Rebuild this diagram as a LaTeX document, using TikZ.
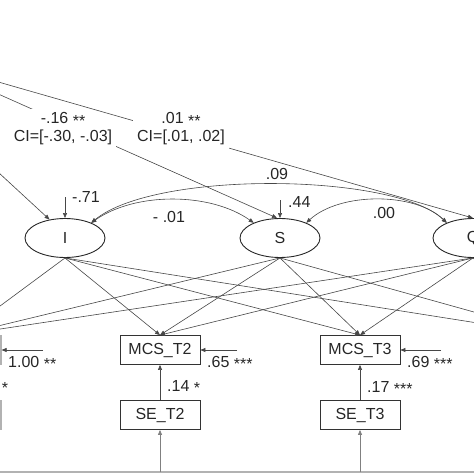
\documentclass[tikz,border=0pt]{standalone}
\usepackage{fontspec}
\setmainfont{Liberation Sans}
\usetikzlibrary{arrows.meta,shapes.geometric}
\newcommand{\stx}[1]{\raisebox{-0.3ex}{#1}}
\begin{document}
\begin{tikzpicture}[x=1pt,y=-1pt,
  lat/.style={ellipse,draw=black!85,line width=0.9pt,minimum width=80pt,minimum height=39pt,inner sep=0pt,font=\fontsize{16}{18}\selectfont,text=black!85},
  obs/.style={rectangle,draw=black!80,line width=0.8pt,minimum width=80pt,minimum height=29pt,inner sep=0pt,font=\fontsize{16}{18}\selectfont,text=black!85},
  edgebox/.style={obs,draw=black!30,line width=1.2pt},
  reg/.style={draw=black!72,line width=0.6pt,-{Triangle[length=5pt,width=4pt]}},
  cov/.style={draw=black!72,line width=0.6pt,{Triangle[length=5pt,width=4pt]}-{Triangle[length=5pt,width=4pt]}},
  lab/.style={font=\fontsize{16}{18}\selectfont,inner sep=0pt,text=black!85},
  cilab/.style={lab,align=center,fill=white,inner sep=4pt},
  base/.style={draw=black!30,line width=1.5pt},
  feed/.style={draw=black!50,line width=0.7pt,-{Triangle[length=5pt,width=4pt]}}
]
\useasboundingbox (0,0) rectangle (474,474);
\clip (0,0) rectangle (474,474);

% latent factors
\node[lat] (I) at (65,238) {I};
\node[lat] (S) at (280,238) {S};
\node[lat] (Q) at (473,238) {Q};

% observed
\node[edgebox] (M1) at (-39,350) {};
\node[obs] (M2) at (160,350) {MCS\_T2};
\node[obs] (M3) at (360,350) {MCS\_T3};
\node[edgebox] (E1) at (-39,415) {};
\node[obs] (E2) at (160,415) {SE\_T2};
\node[obs] (E3) at (360,415) {SE\_T3};
\coordinate (M4) at (560,336);

% off-canvas sources
\coordinate (srcA) at (-40,71);
\coordinate (srcB) at (-40,77);
\coordinate (srcC) at (-40,137);
\coordinate (eI) at (65,197);
\coordinate (eS) at (280,200);

% straight paths from upper left
\draw[reg] (srcB) -- ([xshift=-3pt]S.north);
\node[cilab] (labB) at (63,129) {-.16 \stx{**}\\CI=[-.30, -.03]};
\draw[reg] (srcA) -- (Q.north);
\node[cilab] (labA) at (181,129) {.01 \stx{**}\\CI=[.01, .02]};
\draw[reg] (srcC) -- (I.130);

% residual/variance arrows into factors
\draw[reg] (eI) -- (I.north);
\node[lab,anchor=west] (l71) at (72,197) {-.71};
\draw[reg] (eS) -- (S.north);
\node[lab,anchor=west] (l44) at (288,202) {.44};

% covariances
\draw[cov] (I.30) .. controls (135,192) and (210,192) .. (S.150);
\draw[cov] (I.30) .. controls (155,170) and (395,173) .. (Q.150);
\draw[cov] (S.30) .. controls (340,192) and (415,192) .. (Q.150);
\node[lab] (l01) at (169,217) {- .01};
\node[lab] (l09) at (277,174) {.09};
\node[lab] (l00) at (384,213) {.00};

% loadings
\foreach \f in {I,S,Q}{
  \foreach \m in {M1,M2,M3}{
    \draw[reg] (\f.south) -- (\m.north);
  }
  \draw[reg] (\f.south) -- (M4);
}

% residuals of MCS
\coordinate (r1) at (43,350);
\coordinate (r2) at (237,350);
\coordinate (r3) at (441,350);
\draw[reg] (r1) -- (M1.east);
\draw[reg] (r2) -- (M2.east);
\draw[reg] (r3) -- (M3.east);
\node[lab,anchor=west] (l100) at (8,363) {1.00 \stx{**}};
\node[lab,anchor=west] (l65) at (207,363) {.65 \stx{***}};
\node[lab,anchor=west] (l69) at (407,363) {.69 \stx{***}};

% SE -> MCS
\draw[reg] (E1.north) -- (M1.south);
\draw[reg] (E2.north) -- (M2.south);
\draw[reg] (E3.north) -- (M3.south);
\node[lab] (l13) at (5,388) {\stx{*}};
\node[lab,anchor=west] (l14) at (167,387) {.14 \stx{*}};
\node[lab,anchor=west] (l17) at (367,388) {.17 \stx{***}};

% bottom feed line
\coordinate (bl) at (-60,472);
\coordinate (br) at (534,472);
\coordinate (b1) at (-39,472);
\coordinate (b2) at (160,472);
\coordinate (b3) at (360,472);
\draw[base] (bl) -- (br);
\draw[feed] (b1) -- (E1.south);
\draw[feed] (b2) -- (E2.south);
\draw[feed] (b3) -- (E3.south);
\end{tikzpicture}
\end{document}
